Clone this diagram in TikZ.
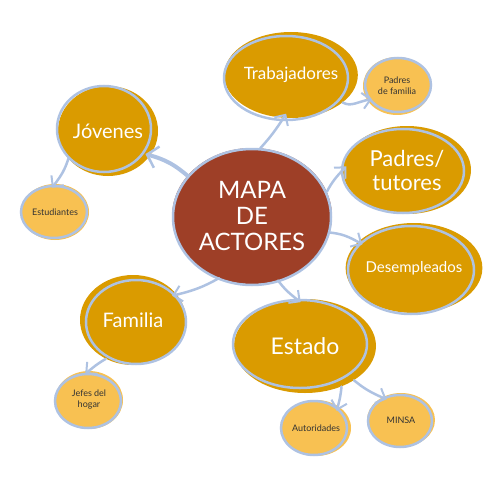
\documentclass[tikz,border=0pt]{standalone}
\usepackage{fontspec}
\setmainfont{Lato}
\usetikzlibrary{shapes.geometric,arrows.meta,calc}

\definecolor{ladrillo}{HTML}{9E3F27}
\definecolor{oro}{HTML}{DA9B00}
\definecolor{miel}{HTML}{F8C152}
\definecolor{celeste}{HTML}{AEC2E2}

\tikzset{
	grande/.style={shape=ellipse, fill=oro, text=white, inner sep=0pt, align=center},
	chico/.style={shape=ellipse, fill=miel, text=black!80, inner sep=0pt, align=center,
		font=\fontsize{9}{11}\selectfont},
	rim/.style={draw=celeste, line width=2.5pt},
	flecha/.style={draw=celeste, line width=2.5pt, line cap=round, shorten >=-5pt,
		-{Straight Barb[length=8pt,width=16pt,line width=2pt]}},
}

\begin{document}
\begin{tikzpicture}[x=1pt, y=-1pt]
	
	\useasboundingbox (0,0) rectangle (500,500);
	
	\node[shape=ellipse, fill=ladrillo, text=white, align=center, minimum width=156, minimum height=136,
		font=\fontsize{24}{26}\selectfont] (centro) at (252, 216) {MAPA\\DE\\ACTORES};
	
	\node[grande, minimum width=128, minimum height=86, font=\fontsize{17}{20}\selectfont] (trab)  at (291, 75)  {Trabajadores};
	\node[grande, minimum width=100, minimum height=90, font=\fontsize{20}{22}\selectfont] (jov)   at (108, 131) {Jóvenes};
	\node[grande, minimum width=128, minimum height=88, font=\fontsize{22}{24}\selectfont] (ptut)  at (407, 170) {Padres/\\tutores};
	\node[grande, minimum width=132, minimum height=90, font=\fontsize{15}{18}\selectfont] (desem) at (414, 268) {Desempleados};
	\node[grande, minimum width=106, minimum height=90, font=\fontsize{20}{22}\selectfont] (fam)   at (133, 320) {Familia};
	\node[grande, minimum width=142, minimum height=94, font=\fontsize{23}{25}\selectfont] (est)   at (305, 346) {Estado};
	
	\node[chico, minimum width=68, minimum height=58] (pfam) at (397, 86)  {Padres\\de familia};
	\node[chico, minimum width=68, minimum height=56] (estu) at (55, 212)  {Estudiantes};
	\node[chico, minimum width=68, minimum height=58] (jefe) at (89, 400)  {Jefes del\\hogar};
	\node[chico, minimum width=70, minimum height=56] (aut)  at (316, 428) {Autoridades};
	\node[chico, minimum width=68, minimum height=54] (minsa) at (401, 420) {MINSA};
	
	% trazos a mano alrededor
	\draw[rim] ($(centro)+(0,1)$) ellipse [x radius=79, y radius=68];
	\draw[rim] ($(trab)+(-5,3)$) ellipse [x radius=62, y radius=42];
	\draw[rim] ($(jov)+(-4,-2)$) ellipse [x radius=47, y radius=43];
	\draw[rim] ($(ptut)+(-4,1)$) ellipse [x radius=61, y radius=42];
	\draw[rim] ($(desem)+(-3,2)$) ellipse [x radius=63, y radius=44];
	\draw[rim] ($(fam)+(3,2)$) ellipse [x radius=50, y radius=42];
	\draw[rim] ($(est)+(-5,-2)$) ellipse [x radius=67, y radius=44];
	\draw[rim] ($(pfam)+(1,-1)$) ellipse [x radius=33, y radius=27];
	\draw[rim] ($(estu)+(-1,0)$) ellipse [x radius=33, y radius=26];
	\draw[rim] ($(jefe)+(-1,1)$) ellipse [x radius=33, y radius=27];
	\draw[rim] ($(aut)+(-2,0)$) ellipse [x radius=33, y radius=27];
	\draw[rim] ($(minsa)+(-1,1)$) ellipse [x radius=32, y radius=26];
	
	% flechas
	\draw[flecha] (centro.83) to[bend right=5] (trab.-100);
	\draw[flecha, line width=4pt, -{Straight Barb[length=10pt,width=22pt,line width=2.5pt]}]
		(centro.148) to[out=140, in=-15] (jov.-30);
	\draw[flecha] (centro.18) to[bend left=8] (ptut.west);
	\draw[flecha] (centro.-12) to[bend left=12] (desem.155);
	\draw[flecha] (centro.-118) to[bend left=8] (fam.30);
	\draw[flecha] (centro.-68) to[bend right=8] (est.100);
	\draw[flecha] (trab.-28) to[out=-30, in=190] (pfam.205);
	\draw[flecha] (jov.-145) to[bend left=10] (estu.north);
	\draw[flecha] (fam.-125) to[bend right=5] (jefe.north);
	\draw[flecha] (est.-48) to[bend left=5] (aut.45);
	\draw[flecha] (est.-35) to[bend right=8] (minsa.130);
	
\end{tikzpicture}
\end{document}
